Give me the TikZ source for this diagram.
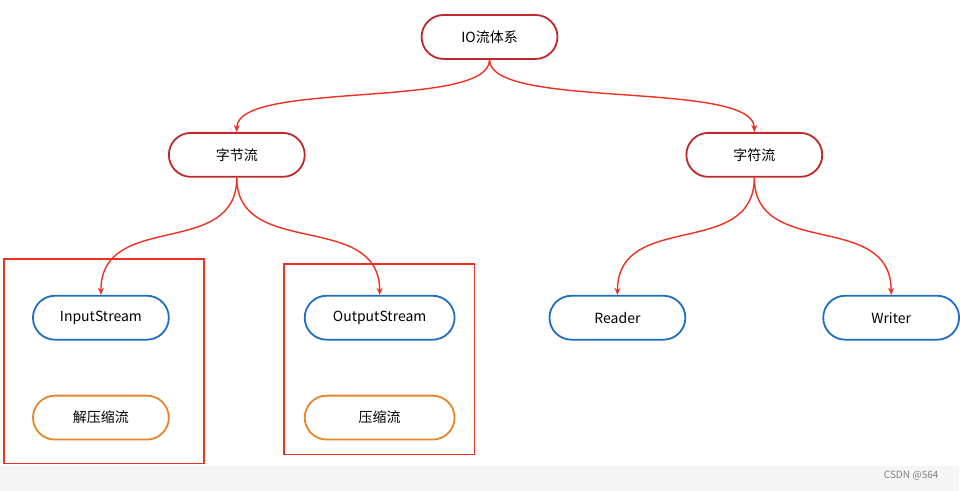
\documentclass[tikz,border=0pt]{standalone}
\usepackage{fontspec}
\setmainfont{Noto Sans CJK SC}
\usetikzlibrary{arrows.meta}
\definecolor{nred}{HTML}{C0282A}
\definecolor{nblue}{HTML}{1F6FC0}
\definecolor{norange}{HTML}{E8842A}
\definecolor{lred}{HTML}{F03020}
\begin{document}
\begin{tikzpicture}[x=1pt,y=-1pt,
  box/.style={draw,line width=1.8pt,rounded corners=22pt,minimum height=44pt,font=\fontsize{14}{16}\selectfont,inner sep=0pt},
  rbox/.style={box,draw=nred,minimum width=136pt},
  bbox/.style={box,draw=nblue},
  obox/.style={box,draw=norange},
  link/.style={draw=lred,line width=1.4pt,-{Stealth[length=7pt,width=6pt]}},
  frame/.style={draw=lred,line width=1.6pt}]
\fill[white] (0,0) rectangle (960,491);
\fill[gray!8] (0,466) rectangle (960,491);
\node[rbox] (io) at (490,37) {IO流体系};
\node[rbox] (zj) at (237,155) {字节流};
\node[rbox] (zf) at (755,155) {字符流};
\node[bbox,minimum width=136pt] (in) at (101,318) {InputStream};
\node[obox,minimum width=136pt] (jy) at (101,418) {解压缩流};
\node[bbox,minimum width=150pt] (out) at (380,318) {OutputStream};
\node[obox,minimum width=150pt] (ys) at (380,418) {压缩流};
\node[bbox,minimum width=136pt] (rd) at (618,318) {Reader};
\node[bbox,minimum width=136pt] (wr) at (892,318) {Writer};
\draw[frame] (4,259) rectangle (204,464);
\draw[frame] (284,264) rectangle (475,455);
\draw[link] (io.south) .. controls (490,110) and (237,80) .. (zj.north);
\draw[link] (io.south) .. controls (490,110) and (755,80) .. (zf.north);
\draw[link] (zj.south) .. controls (237,260) and (101,210) .. (in.north);
\draw[link] (zj.south) .. controls (237,260) and (380,210) .. (out.north);
\draw[link] (zf.south) .. controls (755,260) and (618,210) .. (rd.north);
\draw[link] (zf.south) .. controls (755,260) and (892,210) .. (wr.north);
\node[text=gray,font=\fontsize{10}{12}\selectfont] (wm) at (912,476) {CSDN @564};
\end{tikzpicture}
\end{document}
